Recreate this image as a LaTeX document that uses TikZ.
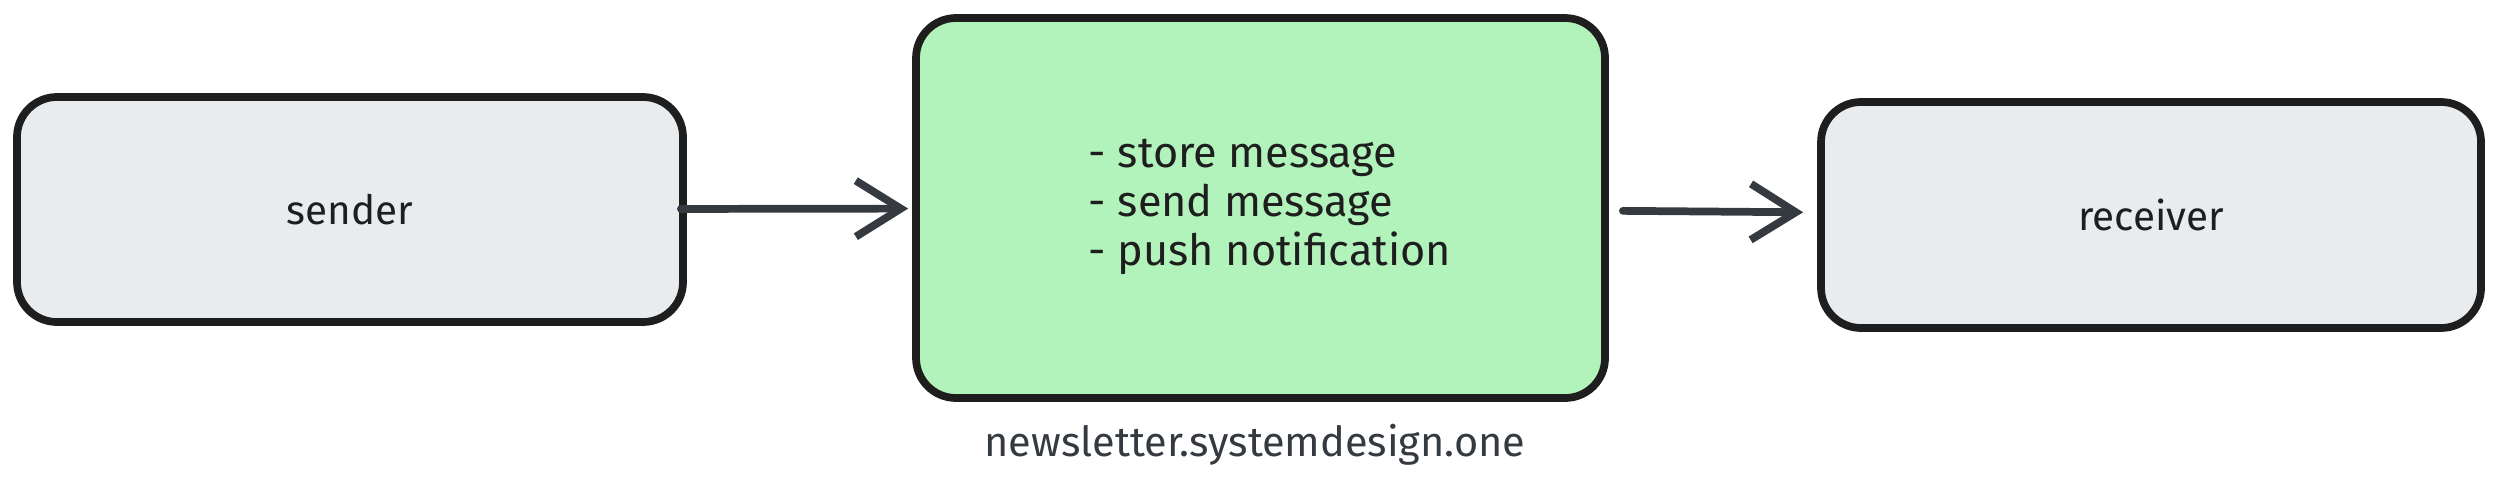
\documentclass[tikz,border=0pt]{standalone}
\usepackage{fontspec}
\setmainfont{Fira Sans}
\usepackage{xcolor}
\usetikzlibrary{arrows.meta}
\definecolor{BoxGray}{HTML}{e9ecef}
\definecolor{BoxGreen}{HTML}{b2f2bb}
\definecolor{Ink}{HTML}{1e1e1e}
\definecolor{Wire}{HTML}{343a40}

\begin{document}
\begin{tikzpicture}[%
  block/.style={draw=Ink, line width=2.2pt, rounded corners=0.4cm, inner sep=0pt, text=Ink, font=\fontsize{11.5}{13.9}\selectfont},%
  link/.style={draw=Wire, line width=2.2pt, line cap=round, -{Straight Barb[length=0.45cm, width=0.56cm, line width=2.2pt]}}]%
\useasboundingbox (0,0) rectangle (25.04,4.87);%
\node[block, fill=BoxGray, minimum width=6.66cm, minimum height=2.25cm] (sender) at (3.500000, 2.775000) {sender};%
\node[block, fill=BoxGreen, minimum width=6.89cm, minimum height=3.80cm] (hub) at (12.605000, 2.790000) {};%
\node[align=left, text=Ink, font=\fontsize{12.3}{13.9}\selectfont] (hubtext) at (12.700000, 2.800000) {- store message\\- send message\\- push notification};%
\node[block, fill=BoxGray, minimum width=6.60cm, minimum height=2.26cm] (receiver) at (21.510000, 2.720000) {receiver};%
\node[text=Wire, font=\fontsize{11.8}{13}\selectfont] (footer) at (12.550000, 0.420000) {newsletter.systemdesign.one};%
\draw[link, shorten <=-0.06cm, shorten >=0.04cm] (sender) -- (hub);%
\draw[link, shorten <=0.14cm, shorten >=0.14cm] (hub) -- (receiver);%
\end{tikzpicture}
\end{document}
